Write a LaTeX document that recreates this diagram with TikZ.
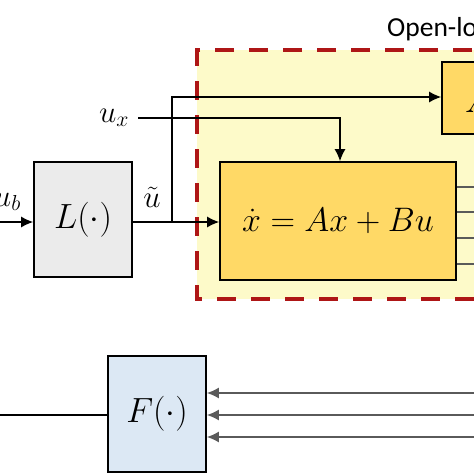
\RequirePackage{fix-cm}
\documentclass[tikz,border=0pt]{standalone}
\usepackage{fontspec}
\newfontfamily\calibri{Carlito}
\usetikzlibrary{arrows.meta}
\definecolor{yellowbg}{HTML}{FDFAC9}
\definecolor{goldfill}{HTML}{FFD966}
\definecolor{grayfill}{HTML}{EBEBEB}
\definecolor{bluefill}{HTML}{DCE8F4}
\definecolor{dred}{HTML}{AE1616}
\definecolor{sigline}{HTML}{5A5A5A}
\tikzset{
  blk/.style={draw=black, line width=1.8pt, inner sep=0pt, align=center},
  conn/.style={draw=black, line width=1.1pt},
  arr/.style={conn, -{Latex[length=12pt,width=11pt]}},
  graysig/.style={draw=sigline, line width=1.3pt},
  grayarr/.style={graysig, -{Latex[length=12pt,width=11pt]}},
  mathlbl/.style={inner sep=0pt, font=\fontsize{31}{36}\selectfont},
  boxtxt/.style={font=\fontsize{35}{40}\selectfont},
}
\begin{document}
\begin{tikzpicture}[x=1pt,y=-1pt]
\useasboundingbox (0,0) rectangle (474,474);
\clip (0,0) rectangle (474,474);
% open-loop region
\fill[yellowbg] (197,50) rectangle (540,299);
\draw[dred, line width=4pt, dash pattern=on 19pt off 15pt] (540,50) -- (197,50) -- (197,299) -- (540,299);
\node[anchor=base west, inner sep=0pt, font=\calibri\fontsize{27.5}{32}\selectfont] (title) at (387,36) {Open-loop};
% blocks
\node[blk, fill=grayfill, minimum width=98pt, minimum height=115pt, boxtxt] (L) at (83,219.5) {$L(\cdot)$};
\node[blk, fill=goldfill, minimum width=236pt, minimum height=118pt, font=\fontsize{34}{40}\selectfont] (S) at (338,221) {$\dot{x} = Ax + Bu$};
\node[blk, fill=goldfill, minimum width=80pt, minimum height=72pt] (K) at (482,98) {};
\node[anchor=base west, inner sep=0pt, boxtxt] (Ktxt) at (465,112) {$A$};
\node[blk, fill=bluefill, minimum width=98pt, minimum height=116pt, boxtxt] (F) at (157,414) {$F(\cdot)$};
% labels
\node[mathlbl, anchor=base east] (ublbl) at (21,206) {$u_b$};
\node[mathlbl, anchor=base] (utl) at (152,207) {$\tilde{u}$};
\node[mathlbl, anchor=base west] (uxlbl) at (99,122) {$u_x$};
% coordinates
\coordinate (ub) at (0,222);
\coordinate (br) at (172,222);
\coordinate (top) at (172,97);
\coordinate (ux) at (138,118);
\coordinate (uxd) at (340,118);
\coordinate (fo) at (0,415);
% connectors
\draw[arr] (ub) -- (ub -| L.west);
\draw[arr] (L.east |- br) -- (S.west |- br);
\draw[arr] (br) -- (top) -- (top -| K.west);
\draw[arr] (ux) -- (uxd) -- (S.north -| uxd);
\foreach \y/\n in {187/a,212/b,238/c,264/d}{
  \coordinate (o\n) at (474,\y);
  \draw[graysig] (S.east |- o\n) -- (o\n);
}
\foreach \y/\n in {393/a,415/b,437/c}{
  \coordinate (i\n) at (474,\y);
  \draw[grayarr] (i\n) -- (F.east |- i\n);
}
\draw[conn] (F.west |- fo) -- (fo);
\end{tikzpicture}
\end{document}
